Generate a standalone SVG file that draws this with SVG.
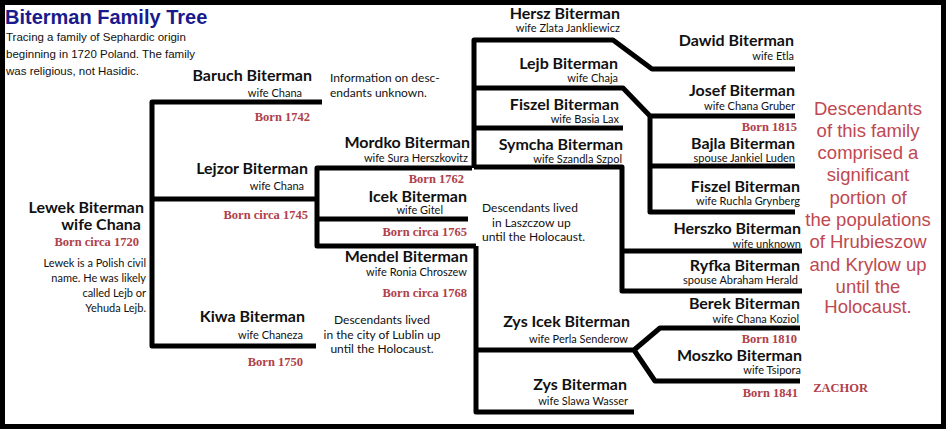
<svg xmlns="http://www.w3.org/2000/svg" width="946" height="429" viewBox="0 0 946 429">
<style>
.n{font-family:Lato,"Liberation Sans",sans-serif;font-weight:bold;font-size:16px;fill:#111;text-anchor:end}
.w{font-family:Lato,"Liberation Sans",sans-serif;font-size:11px;fill:#111;text-anchor:end}
.b{font-family:"Liberation Serif",serif;font-weight:bold;font-size:12.5px;fill:#b0404a;text-anchor:end}
.t{font-family:Lato,"Liberation Sans",sans-serif;font-size:12px;fill:#111}
.r{font-family:"Liberation Sans",sans-serif;font-size:18.5px;fill:#c04850;text-anchor:middle}
.c{fill:none;stroke:#000;stroke-width:5;stroke-linejoin:round}
</style>
<rect x="0" y="0" width="946" height="429" fill="#fff"/>
<rect x="2.5" y="2.5" width="941" height="424" fill="none" stroke="#000" stroke-width="5"/>
<text x="5" y="24" font-family="Liberation Sans,sans-serif" font-weight="bold" font-size="20" fill="#1a1a8c">Biterman Family Tree</text>
<g font-family="Liberation Sans,sans-serif" font-size="11.5" fill="#111">
<text x="6" y="41">Tracing a family of Sephardic origin</text>
<text x="6" y="58">beginning in 1720 Poland.  The family</text>
<text x="6" y="75">was religious, not Hasidic.</text>
</g>
<g id="connectors" class="c">
<path d="M322,102H152V346H316M152,199H315"/>
<path d="M472,168H317V246H476M317,219H468"/>
<path d="M474,168V40H613L652,69H795M474,88H623L650,116H795M650,116V212H795M650,166H795M474,128H623M474,167H622V291H802M622,251H802"/>
<path d="M476,246V412H634M476,350H634M634,350L660,328H800M634,350L655,381H800"/>
</g>
<g id="lewek"><text class="n" x="144" y="213">Lewek Biterman</text><text class="n" x="141" y="230">wife Chana</text><text class="b" x="139" y="246">Born circa 1720</text>
<text class="w" x="146" y="267">Lewek is a Polish civil</text><text class="w" x="146" y="282">name. He was likely</text><text class="w" x="146" y="297">called Lejb or</text><text class="w" x="146" y="312">Yehuda Lejb.</text></g>
<g id="baruch"><text class="n" x="312" y="81">Baruch Biterman</text><text class="w" x="302" y="97">wife Chana</text><text class="b" x="310" y="121">Born 1742</text>
<text class="t" x="330" y="82">Information on desc-</text><text class="t" x="330" y="97">endants unknown.</text></g>
<g id="lejzor"><text class="n" x="308" y="174">Lejzor Biterman</text><text class="w" x="304" y="190">wife Chana</text><text class="b" x="308" y="219">Born circa 1745</text></g>
<g id="kiwa"><text class="n" x="305" y="322">Kiwa Biterman</text><text class="w" x="303" y="339">wife Chaneza</text><text class="b" x="303" y="366">Born 1750</text>
<text class="t" x="382" y="324" text-anchor="middle">Descendants lived</text><text class="t" x="382" y="339" text-anchor="middle">in the city of Lublin up</text><text class="t" x="382" y="353" text-anchor="middle">until the Holocaust.</text></g>
<g id="mordko"><text class="n" x="470" y="148">Mordko Biterman</text><text class="w" x="468" y="162">wife Sura Herszkovitz</text><text class="b" x="464" y="183">Born 1762</text></g>
<g id="icek"><text class="n" x="467" y="202">Icek Biterman</text><text class="w" x="443" y="214">wife Gitel</text><text class="b" x="467" y="236">Born circa 1765</text>
<text class="t" x="482" y="212">Descendants lived</text><text class="t" x="492" y="227">in Laszczow up</text><text class="t" x="482" y="241">until the Holocaust.</text></g>
<g id="mendel"><text class="n" x="468" y="262">Mendel Biterman</text><text class="w" x="467" y="276">wife Ronia Chroszew</text><text class="b" x="467" y="297">Born circa 1768</text></g>
<g id="hersz"><text class="n" x="620" y="19">Hersz Biterman</text><text class="w" x="620" y="32">wife Zlata Jankliewicz</text></g>
<g id="lejb"><text class="n" x="618" y="69">Lejb Biterman</text><text class="w" x="618" y="82">wife Chaja</text></g>
<g id="fiszel1"><text class="n" x="619" y="110">Fiszel Biterman</text><text class="w" x="619" y="123">wife Basia Lax</text></g>
<g id="symcha"><text class="n" x="623" y="150">Symcha Biterman</text><text class="w" x="622" y="163">wife Szandla Szpol</text></g>
<g id="dawid"><text class="n" x="794" y="46">Dawid Biterman</text><text class="w" x="794" y="60">wife Etla</text></g>
<g id="josef"><text class="n" x="795" y="96">Josef Biterman</text><text class="w" x="795" y="110">wife Chana Gruber</text><text class="b" x="797" y="131">Born 1815</text></g>
<g id="bajla"><text class="n" x="795" y="149">Bajla Biterman</text><text class="w" x="795" y="162">spouse Jankiel Luden</text></g>
<g id="fiszel2"><text class="n" x="800" y="192">Fiszel Biterman</text><text class="w" x="800" y="205">wife Ruchla Grynberg</text></g>
<g id="herszko"><text class="n" x="801" y="234">Herszko Biterman</text><text class="w" x="801" y="248">wife unknown</text></g>
<g id="ryfka"><text class="n" x="800" y="271">Ryfka Biterman</text><text class="w" x="798" y="284">spouse Abraham Herald</text></g>
<g id="berek"><text class="n" x="800" y="309">Berek Biterman</text><text class="w" x="799" y="323">wife Chana Koziol</text><text class="b" x="797" y="343">Born 1810</text></g>
<g id="moszko"><text class="n" x="802" y="361">Moszko Biterman</text><text class="w" x="801" y="374">wife Tsipora</text><text class="b" x="798" y="397">Born 1841</text></g>
<g id="zysicek"><text class="n" x="630" y="327">Zys Icek Biterman</text><text class="w" x="628" y="343">wife Perla Senderow</text></g>
<g id="zys"><text class="n" x="627" y="390">Zys Biterman</text><text class="w" x="628" y="405">wife Slawa Wasser</text></g>
<g id="note">
<text class="r" x="868" y="115">Descendants</text><text class="r" x="868" y="137">of this family</text><text class="r" x="868" y="159">comprised a</text><text class="r" x="868" y="181">significant</text><text class="r" x="868" y="204">portion of</text><text class="r" x="868" y="226">the populations</text><text class="r" x="868" y="248">of Hrubieszow</text><text class="r" x="868" y="271">and Krylow up</text><text class="r" x="868" y="293">until the</text><text class="r" x="868" y="313">Holocaust.</text>
<text class="b" x="868" y="392" text-anchor="middle" font-size="12">ZACHOR</text>
</g>
</svg>
